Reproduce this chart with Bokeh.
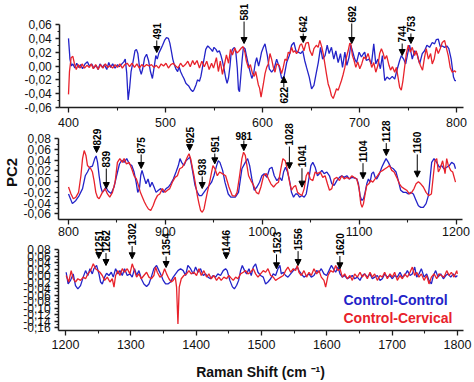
import math
from bokeh.plotting import figure
from bokeh.models import (Range1d, LinearAxis, FixedTicker, CustomJSTickFormatter,
                          ColumnDataSource, LabelSet, Label, Arrow, NormalHead)
from bokeh.embed import file_html
from bokeh.resources import INLINE
from bokeh.core.properties import value

# ---------------- data ----------------
P1_BLUE_X = [400, 401.5, 403, 404.5, 406.5, 408.5, 410.5, 412.5, 414.5, 417, 419.5, 421.5, 424, 426, 428.5, 430.5,
             432.5, 435, 437, 439.5, 441.5, 443.5, 445.5, 448, 450.5, 452.5, 455, 457, 458.5, 460, 461.5, 463,
             464.5, 466.5, 468.5, 470, 471.5, 473.5, 475, 476.5, 478.5, 480.5, 482.5, 484.5, 486.5, 488.5, 490,
             491.5, 493, 495, 497, 499, 501, 503, 504.5, 506, 507.5, 509, 511, 512.5, 514, 515.5, 517.5, 519, 521,
             522.5, 524, 526, 528, 529.5, 531.5, 533, 535, 536.5, 538, 540, 541.5, 543.5, 545, 547, 548.5, 550,
             552, 553.5, 555.5, 557, 558.5, 560.5, 562, 563.5, 565, 566.5, 567.5, 569, 571, 572.5, 574, 575.2,
             576.3, 577.5, 579, 580.3, 582, 583.7, 585.4, 587.5, 589, 591, 592.5, 594, 596, 597.5, 599, 600.9,
             602.6, 605, 607, 609.4, 612, 614.6, 617.3, 619.7, 622.1, 624.9, 627.6, 630, 632.4, 634.5, 636.9,
             639.3, 641.5, 643.5, 645.4, 648.2, 650.6, 653, 655.3, 657.5, 659.8, 662, 664.5, 666.7, 668.7, 671.1,
             673.5, 675.6, 678, 680.4, 682.5, 684.9, 687, 689.3, 691, 692.7, 695.1, 697, 699.6, 702, 703.7, 705.4,
             707, 709.8, 712.3, 714.7, 716.8, 719, 721.5, 723.6, 726, 728.4, 731.1, 733.8, 736.3, 739, 741.4,
             743.1, 745.5, 747.6, 750, 751.7, 754.4, 756.8, 759.5, 762, 764.7, 767.1, 769.5, 772.3, 775, 777.4,
             779.1, 781.2, 783.2, 785.3, 787.7, 790.1, 792.1, 794.5, 796.9, 798.3, 799.5]
P1_BLUE_Y = [0.040, 0.010, 0.000, 0.003, -0.003, 0.004, -0.002, 0.002, -0.004, 0.003, 0.006, 0.000, 0.003, -0.003,
             0.001, -0.005, 0.003, -0.002, 0.002, -0.005, 0.005, -0.002, 0.003, -0.003, 0.002, -0.001, 0.003,
             0.006, 0.010, -0.010, -0.049, -0.032, -0.008, 0.006, 0.022, 0.024, 0.018, -0.005, -0.012, -0.004,
             0.012, 0.017, 0.008, -0.008, -0.018, 0.000, 0.015, 0.010, 0.018, 0.024, 0.030, 0.037, 0.041, 0.040,
             0.033, 0.022, 0.010, 0.002, -0.005, -0.008, -0.001, -0.008, -0.014, -0.018, -0.025, -0.027, -0.029,
             -0.034, -0.037, -0.034, -0.027, -0.020, -0.022, -0.015, -0.003, 0.012, 0.024, 0.029, 0.027, 0.024,
             0.021, 0.027, 0.024, 0.020, 0.022, 0.016, 0.008, -0.005, -0.017, -0.025, -0.017, 0.000, 0.016,
             0.024, 0.027, 0.020, -0.003, -0.034, -0.037, -0.017, 0.009, 0.027, 0.025, 0.013, 0.002, -0.010,
             -0.018, -0.010, 0.004, 0.012, 0.000, 0.009, 0.020, 0.027, 0.032, 0.015, -0.004, -0.009, -0.004,
             0.010, -0.002, -0.018, -0.016, 0.005, 0.015, 0.030, 0.034, 0.022, 0.020, 0.018, 0.022, 0.008,
             -0.002, -0.016, -0.033, -0.028, -0.011, 0.005, 0.027, 0.010, 0.015, 0.030, 0.018, 0.027, 0.010,
             0.022, 0.005, 0.018, -0.002, 0.020, 0.001, 0.013, 0.030, 0.022, 0.010, 0.005, 0.020, 0.013, 0.017,
             0.020, 0.008, 0.010, 0.003, 0.032, 0.003, 0.010, -0.004, 0.015, -0.021, -0.016, -0.019, -0.015,
             -0.019, -0.004, 0.008, 0.015, 0.010, 0.003, 0.020, 0.030, 0.010, 0.022, 0.017, 0.003, 0.018, 0.022,
             0.030, 0.027, 0.034, 0.032, 0.038, 0.039, 0.028, 0.029, 0.027, 0.029, 0.025, 0.010, -0.016, -0.021,
             -0.021]

P1_RED_X = [400, 401, 402.7, 404.5, 406, 408, 410, 412, 414, 416.5, 419, 421.5, 423.5, 425.5, 428, 430.5, 433,
            435.5, 438, 440.5, 443, 445.5, 448, 450.5, 453, 455.5, 458, 460.5, 463, 465.5, 468, 470.5, 473, 475.5,
            478, 480.5, 483, 485.5, 488, 490.5, 493, 495.5, 498, 500.5, 503, 505.5, 508, 510.5, 513, 515.5, 518,
            520.5, 523, 525.5, 528, 530, 532.5, 535, 537.5, 540, 542.5, 545, 547.5, 549.5, 552.5, 554.5, 556.5,
            558.7, 560.5, 562.8, 565, 567, 569, 571.4, 573.5, 575.5, 578.2, 580, 582, 583.4, 585.5, 587.5, 589.5,
            591.5, 593, 595.7, 597, 598.5, 600.9, 602.6, 604.3, 606, 607.7, 609.4, 611.2, 612.9, 614.6, 617.3,
            619.7, 621.4, 623.2, 624.9, 626.6, 628.3, 630, 631.7, 633.4, 635.1, 636.9, 638.6, 640.3, 642.7,
            644.8, 647.2, 648.9, 651.3, 653, 655.5, 657.4, 659.1, 661, 662.6, 664.3, 666, 667.7, 669.4, 671.1,
            672.9, 674.6, 676.3, 678, 679.7, 681.4, 683, 684.9, 686.6, 688.3, 690, 691, 692.7, 694.4, 696.2,
            698.2, 700.3, 702.3, 704.4, 706.5, 708.8, 710.5, 712.6, 714.7, 716.8, 719, 720.8, 722.6, 724.5, 726,
            728, 730.4, 732, 734, 736.3, 738, 739.7, 741.4, 743.1, 744.8, 746.5, 748.3, 750.3, 752.4, 754.4,
            756.8, 758.5, 760.6, 762.7, 765, 767.1, 768.8, 771, 773.3, 775, 777, 779.1, 781.2, 783.2, 785.3,
            787.7, 789.4, 791.5, 793.5, 795.6, 798, 799.5]
P1_RED_Y = [-0.041, -0.008, 0.012, 0.014, 0.004, -0.005, 0.002, -0.003, 0.003, -0.003, 0.001, -0.002, 0.003,
            -0.004, 0.002, -0.005, 0.002, -0.003, 0.003, -0.002, 0.001, -0.003, 0.002, -0.002, 0.003, -0.003,
            0.002, 0.004, -0.001, 0.004, -0.002, 0.003, -0.003, 0.002, -0.001, 0.002, 0.000, 0.002, -0.002,
            0.001, -0.003, 0.003, 0.000, 0.004, -0.003, 0.002, 0.004, 0.000, -0.003, 0.004, -0.001, 0.002,
            0.007, -0.001, 0.008, 0.002, 0.008, -0.003, 0.007, -0.001, 0.007, -0.005, 0.004, -0.003, 0.012,
            -0.008, 0.007, -0.012, 0.000, 0.016, 0.004, 0.024, 0.016, 0.026, 0.019, 0.021, 0.026, 0.028, 0.019,
            0.007, -0.003, 0.002, -0.010, -0.015, -0.008, -0.027, -0.032, -0.045, -0.026, -0.011, -0.002, 0.003,
            0.018, 0.010, -0.002, -0.009, 0.003, 0.001, -0.011, -0.002, 0.010, 0.008, 0.020, 0.018, 0.027,
            0.020, 0.022, 0.018, 0.022, 0.030, 0.032, 0.022, 0.033, 0.034, 0.022, 0.015, 0.025, 0.030, 0.027,
            0.037, 0.028, 0.018, 0.003, -0.012, -0.026, -0.033, -0.043, -0.047, -0.040, -0.033, -0.035, -0.028,
            -0.021, -0.013, -0.002, 0.013, 0.022, 0.033, 0.032, 0.015, 0.008, -0.002, 0.006, -0.004, 0.003,
            0.013, 0.010, 0.018, 0.010, -0.002, 0.005, -0.009, 0.001, 0.018, 0.025, 0.018, 0.010, 0.015, 0.001,
            -0.006, -0.001, -0.009, -0.002, -0.016, -0.031, -0.035, -0.021, -0.002, 0.018, 0.030, 0.020, 0.027,
            0.015, 0.022, 0.010, 0.001, -0.006, 0.013, 0.025, 0.010, 0.018, 0.003, 0.010, 0.027, 0.018, 0.025,
            0.034, 0.037, 0.027, 0.015, -0.002, -0.009, -0.007, -0.009]

P2_BLUE_X = [800, 804, 807.6, 811, 814.5, 817.3, 819.6, 822, 824.7, 827.1, 828.5, 830, 831.6, 833.3, 835, 836.8,
             838.5, 841, 844, 847, 849.8, 852.6, 855, 857.4, 860.1, 862.9, 865.3, 867.7, 869.8, 871.5, 873.2,
             874.6, 875.9, 878, 880, 882.1, 884.2, 886.2, 888.3, 890.4, 892.8, 895.2, 897.9, 900.7, 903.1, 905.5,
             908.2, 911, 913.4, 915.1, 916.8, 919.2, 921.3, 923.7, 925.4, 927.1, 928.9, 930.6, 933, 935, 937.4,
             939.8, 942.6, 945.3, 947.7, 950.1, 952.9, 954.6, 956.3, 959.1, 961.5, 964.9, 967.5, 972.2, 975.5,
             979, 982.5, 984.9, 987, 989.3, 991.7, 994.5, 997.2, 999.6, 1002, 1004.8, 1007.5, 1010, 1012.4,
             1015.1, 1017.9, 1020.3, 1022, 1024, 1026.1, 1028.2, 1030.2, 1032.3, 1034.4, 1036.4, 1038.5, 1040.9,
             1043.3, 1045.4, 1047.8, 1050.2, 1052.2, 1054.6, 1057, 1059.1, 1061.5, 1063.9, 1066.7, 1069.4,
             1071.8, 1074.2, 1077, 1079.7, 1082.1, 1084.5, 1087.3, 1090, 1092.4, 1094.8, 1097.6, 1099.3, 1101,
             1102.7, 1104.5, 1106.2, 1107.9, 1109.6, 1111.3, 1113, 1114.8, 1116.5, 1118.2, 1121, 1123.4, 1125.8,
             1127.8, 1130.2, 1132.6, 1135.4, 1138.1, 1140.5, 1142.9, 1145.7, 1148.4, 1150.8, 1153.3, 1156,
             1158.8, 1161.2, 1163.6, 1166.3, 1169.1, 1171.5, 1173.2, 1174.9, 1177.3, 1180.1, 1182.8, 1185.2,
             1187.6, 1190.4, 1193.1, 1195.5, 1198, 1199.5]
P2_BLUE_Y = [-0.023, -0.041, -0.035, -0.026, -0.013, 0.011, 0.018, 0.027, 0.029, 0.043, 0.048, 0.036, 0.011,
             -0.010, -0.020, -0.016, -0.010, -0.018, -0.022, -0.010, 0.012, 0.033, 0.040, 0.036, 0.043, 0.033,
             0.030, 0.018, -0.001, -0.020, -0.013, 0.012, 0.021, 0.008, -0.004, 0.005, -0.010, -0.001, -0.010,
             -0.020, -0.016, -0.013, -0.020, -0.013, -0.010, -0.004, 0.005, 0.018, 0.030, 0.043, 0.036, 0.030,
             0.039, 0.043, 0.046, 0.030, 0.011, -0.007, -0.020, -0.026, -0.026, -0.020, -0.013, -0.007, -0.001,
             0.011, 0.030, 0.039, 0.036, 0.021, -0.001, -0.023, -0.029, -0.029, -0.020, 0.024, 0.036, 0.043,
             0.030, 0.005, -0.016, -0.010, -0.001, 0.011, 0.015, 0.008, 0.024, 0.027, 0.011, 0.002, 0.008, 0.002,
             0.018, 0.027, 0.018, 0.002, -0.020, -0.029, -0.023, -0.023, -0.029, -0.026, -0.029, -0.023, 0.002,
             0.030, 0.036, 0.027, 0.011, 0.015, 0.021, 0.015, 0.018, 0.011, -0.004, -0.007, 0.002, 0.008, 0.011,
             0.008, 0.011, 0.005, 0.008, 0.007, 0.005, -0.004, -0.026, -0.035, -0.032, -0.020, -0.004, 0.005,
             -0.001, 0.015, 0.018, 0.008, 0.005, 0.015, 0.027, 0.036, 0.043, 0.036, 0.027, 0.024, 0.018, 0.002,
             -0.016, -0.020, -0.020, -0.023, -0.020, -0.023, -0.035, -0.045, -0.048, -0.048, -0.041, -0.026,
             0.005, 0.036, 0.043, 0.036, 0.027, 0.030, 0.024, 0.027, 0.030, 0.036, 0.033, 0.024]

P2_RED_X = [800, 802.6, 805, 807.6, 810.4, 812.8, 814.5, 816.2, 818, 819.6, 821.3, 823, 824.7, 826.4, 828.2, 829.9,
            831.6, 833.3, 835, 837.8, 840.2, 842.6, 845.4, 848.1, 850.5, 853, 855.7, 857.4, 859.8, 862.5, 865.3,
            867.7, 870.1, 872.2, 874.2, 876.3, 878.4, 880.4, 882.5, 884.9, 887.3, 889.3, 891.8, 894.2, 896.9,
            899.7, 902.1, 904.5, 907.2, 910, 912.4, 914.8, 917.5, 920.3, 922.7, 924.4, 926.1, 927.8, 929.6,
            931.3, 933, 934.7, 936.4, 938.1, 939.9, 941.6, 943.3, 945.7, 947.7, 949.1, 951.2, 953.6, 956, 958.7,
            962.2, 965.6, 969, 972, 974, 976.6, 979, 980.7, 982.5, 984.2, 985.9, 988.3, 991.1, 993.8, 996.2,
            998.6, 1001.4, 1004.1, 1006.5, 1008.9, 1011.7, 1014.4, 1016.8, 1019.2, 1021.3, 1023.7, 1026.1,
            1028.2, 1030.2, 1032.3, 1034.4, 1036.4, 1038.5, 1040.9, 1043.3, 1045.4, 1047.4, 1049.5, 1052.2,
            1054.6, 1057, 1059.8, 1062.5, 1064.9, 1067.3, 1069.4, 1071.8, 1074.2, 1077, 1079.7, 1082.1, 1084.5,
            1087.3, 1090, 1092.4, 1094.8, 1097.6, 1100, 1101.7, 1103.1, 1104.5, 1106.2, 1107.9, 1110, 1112,
            1114.1, 1116.5, 1118.9, 1121.6, 1124.4, 1126.8, 1129.2, 1131.3, 1133.7, 1136.1, 1138.8, 1141.6, 1144,
            1146.4, 1149.1, 1151.9, 1154.3, 1156.7, 1158.8, 1161.2, 1163.6, 1166.3, 1169.1, 1171.8, 1174.6,
            1176.6, 1178.3, 1180.1, 1181.8, 1183.5, 1186.2, 1188.7, 1190.4, 1192.1, 1194.5, 1196.6, 1199.5]
P2_RED_Y = [-0.010, -0.023, -0.032, -0.029, -0.020, 0.011, 0.043, 0.058, 0.049, 0.030, 0.027, 0.024, 0.018, 0.002,
            -0.020, -0.029, -0.032, -0.026, -0.020, -0.013, -0.023, -0.029, -0.020, -0.001, 0.036, 0.043, 0.036,
            0.043, 0.033, 0.036, 0.024, 0.011, 0.005, -0.007, -0.020, -0.029, -0.038, -0.045, -0.051, -0.054,
            -0.045, -0.035, -0.026, -0.023, -0.013, -0.020, -0.016, -0.013, -0.001, 0.008, 0.011, 0.024, 0.027,
            0.036, 0.046, 0.052, 0.043, 0.027, 0.011, -0.007, -0.026, -0.041, -0.054, -0.057, -0.051, -0.035,
            -0.020, -0.001, 0.018, 0.030, 0.024, 0.011, 0.018, 0.015, 0.011, -0.010, -0.026, -0.027, -0.020,
            0.011, 0.043, 0.055, 0.049, 0.030, 0.011, 0.002, -0.007, -0.020, -0.023, -0.010, 0.011, 0.015, 0.005,
            -0.004, -0.010, -0.004, -0.001, 0.024, 0.043, 0.039, 0.021, -0.001, -0.016, -0.010, -0.007, -0.020,
            -0.023, -0.026, -0.013, 0.011, 0.018, 0.005, 0.002, 0.018, 0.015, 0.018, 0.008, 0.011, -0.004,
            -0.016, -0.013, 0.005, 0.008, 0.002, 0.011, 0.005, 0.008, 0.005, 0.011, 0.008, 0.005, -0.013, -0.041,
            -0.048, -0.041, -0.023, -0.007, -0.004, 0.002, -0.001, 0.005, 0.011, 0.018, 0.021, 0.024, 0.027,
            0.030, 0.021, 0.018, 0.008, -0.004, -0.010, -0.013, -0.016, -0.023, -0.020, -0.013, -0.004, 0.000,
            -0.004, -0.010, -0.020, -0.026, -0.023, 0.011, 0.039, 0.043, 0.018, 0.024, 0.039, 0.015, 0.043,
            0.030, 0.021, 0.018, -0.001]

P3_BLUE_X = [1201, 1204, 1207.7, 1211.8, 1215.3, 1218.9, 1223, 1227.1, 1230.7, 1234.3, 1237.4, 1241, 1243.5,
             1247.6, 1251.2, 1253.7, 1256.3, 1259.9, 1262.9, 1266.5, 1270.1, 1273.1, 1276.7, 1280.3, 1283.3,
             1286.9, 1290.4, 1294.5, 1298.6, 1302.1, 1305.7, 1308.8, 1312.4, 1316, 1320, 1324.1, 1327.7, 1331.3,
             1335.3, 1339.4, 1343, 1346.6, 1349.6, 1353.2, 1356.8, 1360.8, 1364.9, 1368.5, 1372.1, 1376.1,
             1380.2, 1383.8, 1387.3, 1391.4, 1395.5, 1399.1, 1402.7, 1406.7, 1410.8, 1414.4, 1418, 1422, 1426.1,
             1429.7, 1433.2, 1437.3, 1441.4, 1445, 1447.5, 1451.6, 1455.5, 1458.5, 1462, 1465, 1468, 1470.6,
             1474.1, 1477.2, 1480.8, 1484.3, 1487.4, 1491, 1494.6, 1498.6, 1502.7, 1506.3, 1509.9, 1514, 1518,
             1521.6, 1525.2, 1528.2, 1530.3, 1533.4, 1536.9, 1540.5, 1544.6, 1548.7, 1552.2, 1554.8, 1557.3,
             1560.9, 1565, 1569.1, 1572.7, 1576.2, 1580.3, 1584.4, 1588, 1591.5, 1595.6, 1599.7, 1603.3, 1606.9,
             1609.9, 1613.5, 1617.1, 1620.1, 1623.7, 1627.3, 1631.4, 1635.4, 1639, 1642.6, 1646.7, 1650.8,
             1654.3, 1657.9, 1662, 1666.1, 1669.6, 1673.2, 1677.3, 1681.4, 1684.9, 1688.5, 1692.6, 1696.7,
             1700.3, 1703.8, 1707.9, 1712, 1715.6, 1719.2, 1723.3, 1727.3, 1730.9, 1734.5, 1737.5, 1741.1,
             1744.7, 1748.8, 1752.8, 1756.4, 1760, 1763.1, 1766.6, 1770.2, 1774.3, 1778.4, 1782, 1785.5, 1789.6,
             1793.7, 1797.3, 1799.8]
P3_BLUE_Y = [0.010, -0.026, -0.015, 0.005, -0.031, -0.041, -0.031, -0.005, 0.015, 0.000, 0.021, 0.005, 0.021,
             0.031, 0.005, -0.020, -0.026, -0.005, 0.007, 0.000, 0.010, -0.005, 0.021, 0.005, 0.015, 0.000, 0.021,
             0.000, 0.005, -0.005, 0.021, 0.000, 0.015, -0.010, -0.026, -0.034, -0.026, -0.005, 0.021, 0.031,
             0.015, 0.000, -0.015, -0.026, -0.026, -0.020, -0.005, 0.005, 0.015, 0.021, 0.015, 0.000, 0.031,
             0.021, 0.005, 0.026, 0.010, 0.021, 0.000, 0.005, -0.005, -0.010, 0.000, -0.005, 0.005, 0.000, 0.015,
             0.021, 0.015, -0.015, -0.035, -0.041, -0.030, -0.015, 0.015, 0.031, 0.015, 0.005, 0.021, 0.000,
             0.026, 0.036, 0.010, 0.000, -0.005, -0.026, -0.020, -0.010, 0.005, 0.000, 0.021, 0.031, 0.005,
             0.010, 0.000, -0.005, 0.005, 0.015, 0.021, 0.026, 0.015, 0.005, -0.005, 0.000, 0.005, -0.005, 0.000,
             0.015, 0.010, 0.021, 0.005, 0.000, 0.015, 0.031, 0.021, 0.010, 0.026, 0.005, -0.005, 0.000, -0.010,
             -0.005, 0.000, -0.010, -0.005, -0.015, 0.000, 0.005, -0.005, 0.005, -0.010, -0.005, 0.000, -0.015,
             -0.010, 0.005, -0.005, 0.000, -0.010, 0.000, -0.005, 0.010, -0.005, 0.000, 0.015, 0.000, 0.005,
             0.026, -0.005, 0.005, 0.021, -0.005, 0.005, -0.015, -0.026, 0.000, 0.015, -0.005, 0.005, -0.010,
             0.000, 0.005, -0.005, 0.005, -0.005, 0.000]

P3_RED_X = [1201, 1205, 1208.7, 1211.8, 1215.3, 1218.9, 1223, 1227.1, 1230.7, 1234.3, 1238.4, 1242.5, 1246.1,
            1249.6, 1252.7, 1256.3, 1259.9, 1264, 1268, 1271.6, 1274.2, 1276.7, 1280.3, 1283.3, 1286.9, 1290.4,
            1294.5, 1298.6, 1302.1, 1304.7, 1308.8, 1312.4, 1316, 1320, 1324.1, 1327.7, 1331.3, 1335.3, 1337.9,
            1340.5, 1344.5, 1348.1, 1351.7, 1354.7, 1358.3, 1361.9, 1364.9, 1368, 1370, 1372.1, 1374.1, 1377.2,
            1381.2, 1385.3, 1388.9, 1392.4, 1396.5, 1400.6, 1404.2, 1407.8, 1411.8, 1415.9, 1419.5, 1423, 1427.1,
            1431.2, 1434.8, 1438.3, 1442.4, 1446.5, 1450.1, 1453.6, 1456.8, 1460.4, 1464, 1468, 1472.1, 1475.7,
            1479.2, 1483.3, 1487.4, 1491, 1494.6, 1498.6, 1502.7, 1506.3, 1509.9, 1514, 1518, 1521.6, 1525.2,
            1529.3, 1533.4, 1536.9, 1540.5, 1544.6, 1548.7, 1552.2, 1554.8, 1557.3, 1560.9, 1565, 1569.1, 1572.7,
            1576.2, 1580.3, 1584.4, 1588, 1591.5, 1595.6, 1598.2, 1601.8, 1605.8, 1609.9, 1613.5, 1617.1, 1620.1,
            1623.7, 1627.3, 1631.4, 1635.4, 1639, 1642.6, 1646.7, 1650.8, 1654.3, 1657.9, 1662, 1666.1, 1669.6,
            1673.2, 1677.3, 1681.4, 1684.9, 1688.5, 1692.6, 1696.7, 1700.3, 1703.8, 1707.9, 1712, 1715.6, 1719.2,
            1723.3, 1727.3, 1730.9, 1734.5, 1737.5, 1741.1, 1744.7, 1748.8, 1752.8, 1756.4, 1760, 1764.1, 1768.2,
            1771.7, 1775.3, 1779.4, 1783.5, 1787.1, 1790.6, 1794.7, 1798.8, 1799.8]
P3_RED_Y = [0.000, -0.020, 0.015, -0.010, -0.020, -0.010, -0.015, -0.005, -0.010, 0.005, 0.015, 0.036, 0.021,
            0.015, 0.010, 0.000, -0.015, -0.005, -0.020, -0.010, -0.036, 0.000, 0.015, 0.000, 0.021, 0.010, 0.021,
            0.005, 0.036, 0.021, -0.005, 0.005, -0.010, 0.000, 0.010, -0.005, -0.010, 0.000, 0.026, 0.010,
            -0.005, 0.000, 0.021, 0.005, -0.010, -0.020, -0.015, -0.005, -0.036, -0.149, -0.036, -0.010, 0.000,
            0.005, 0.015, 0.005, 0.010, 0.000, 0.021, 0.000, 0.015, -0.005, 0.005, -0.010, 0.000, -0.015, -0.005,
            -0.015, -0.005, -0.010, 0.000, -0.008, -0.015, -0.005, -0.010, 0.005, 0.010, 0.015, 0.005, 0.010,
            0.021, 0.005, -0.005, 0.005, 0.015, 0.010, 0.021, 0.000, -0.005, -0.015, -0.010, -0.005, 0.000, 0.015,
            0.026, 0.010, 0.021, 0.015, 0.031, 0.010, 0.000, 0.015, -0.005, 0.010, 0.000, 0.021, 0.005, 0.015,
            -0.005, -0.015, -0.036, 0.000, 0.015, 0.010, 0.031, 0.015, 0.021, -0.005, 0.005, -0.010, 0.000,
            -0.015, 0.005, -0.005, 0.010, -0.005, 0.005, -0.010, 0.010, -0.005, 0.005, -0.015, 0.000, -0.005,
            0.010, -0.010, 0.005, -0.005, 0.010, -0.015, 0.000, -0.010, 0.005, -0.005, 0.010, 0.026, 0.000, 0.010,
            -0.005, 0.005, -0.015, 0.000, -0.026, -0.005, 0.005, -0.010, 0.005, 0.000, -0.005, 0.015, 0.000,
            0.010, -0.005, 0.015, 0.005]

# tick values
P1_XTICKS = [400, 500, 600, 700, 800]
P1_XMINOR = [450, 550, 650, 750]
P1_YTICKS = [-0.06, -0.04, -0.02, 0.0, 0.02, 0.04, 0.06]
P1_YMINOR = [-0.05, -0.03, -0.01, 0.01, 0.03, 0.05]
P2_XTICKS = [800, 900, 1000, 1100, 1200]
P2_XMINOR = [850, 950, 1050, 1150]
P2_YTICKS = [-0.06, -0.04, -0.02, 0.0, 0.02, 0.04, 0.06, 0.08]
P2_YMINOR = [-0.05, -0.03, -0.01, 0.01, 0.03, 0.05, 0.07]
P3_XTICKS = [1200, 1300, 1400, 1500, 1600, 1700, 1800]
P3_XMINOR = [1250, 1350, 1450, 1550, 1650, 1750]
P3_YTICKS = [-0.16, -0.14, -0.12, -0.10, -0.08, -0.06, -0.04, -0.02, 0.0, 0.02, 0.04, 0.06, 0.08]
P3_YMINOR = [-0.15, -0.13, -0.11, -0.09, -0.07, -0.05, -0.03, -0.01, 0.01, 0.03, 0.05, 0.07]

# annotated peaks: wavenumber, then layout (label base, arrow tail, arrow tip) in PC2 units
P1_PEAKS = [491, 581, 622, 642, 692, 744, 753]
P1_LAB_Y = [0.0383, 0.0658, -0.0542, 0.0484, 0.0629, 0.034, 0.0484]
P1_TAIL_Y = [0.0369, 0.0643, -0.031, 0.047, 0.0615, 0.0325, 0.047]
P1_TIP_Y = [0.0195, 0.0325, -0.0152, 0.034, 0.0325, 0.0152, 0.0325]
P2_PEAKS = [829, 839, 875, 925, 938, 951, 1028, 1041, 1104, 1128, 1160]
P2_LAB_Y = [0.0675, 0.0264, 0.052, 0.0712, 0.0115, 0.0544, 0.0675, 0.027, 0.0363, 0.0737, 0.0526]
P2_TAIL_Y = [0.0656, 0.0245, 0.0507, 0.069, 0.0097, 0.0525, 0.0656, 0.025, 0.0345, 0.072, 0.0508]
P2_TIP_Y = [0.0544, -0.0128, 0.0246, 0.058, -0.0128, 0.0333, 0.024, -0.0103, 0.0053, 0.0488, 0.0083]
P2_FLAT_PEAK = [981]
P2_FLAT_LAB_Y = [0.086]
P2_FLAT_TAIL_Y = [0.077]
P2_FLAT_TIP_Y = [0.058]
P3_PEAKS = [1251, 1262, 1302, 1354, 1446, 1523, 1556, 1620]
P3_LAB_Y = [0.0708, 0.0708, 0.0923, 0.0615, 0.0717, 0.0667, 0.077, 0.0615]
P3_TAIL_Y = [0.069, 0.069, 0.0905, 0.0585, 0.07, 0.065, 0.075, 0.06]
P3_TIP_Y = [0.0523, 0.0308, 0.0514, 0.0246, 0.0514, 0.0206, 0.0308, 0.0206]

SERIES_NAMES = ["Control-Control", "Control-Cervical"]

# ---------------- layout ----------------
W, H, OFF = 474, 382, 0
BLUE, RED = "#2323c8", "#e8222b"
FONT = "Liberation Sans"
AX = "#1e1e1e"


def x_range(d1, X1, d2, X2):
    c1, c2 = X1 - OFF, X2 - OFF
    s = (c2 - c1) / (d2 - d1)
    start = d1 - c1 / s
    return Range1d(start, start + W / s)


def y_range(v1, Y1, v2, Y2):
    b1, b2 = H - (Y1 - OFF), H - (Y2 - OFF)
    s = (b2 - b1) / (v2 - v1)
    start = v1 - b1 / s
    return Range1d(start, start + H / s)


p = figure(width=W, height=H, output_backend="svg", toolbar_location=None,
           x_axis_type=None, y_axis_type=None, x_range=Range1d(0, 1), y_range=Range1d(0, 1),
           min_border=0, min_border_left=0, min_border_right=0, min_border_top=0, min_border_bottom=0)
p.outline_line_color = None
p.title.visible = False
p.background_fill_color = "white"
p.border_fill_color = "white"

p.extra_x_ranges = {
    "x1": x_range(400, 68, 800, 456),
    "x2": x_range(800, 68, 1200, 455.5),
    "x3": x_range(1200, 65, 1800, 457),
}
p.extra_y_ranges = {
    "y1": y_range(0.06, 24, -0.06, 107),
    "y2": y_range(0.08, 138.3, -0.06, 213.3),
    "y3": y_range(0.08, 249, -0.16, 327),
}

fmt = CustomJSTickFormatter(code="return tick.toFixed(2).replace('.', ',');")


def style_axis(a, standoff):
    a.axis_line_color = AX
    a.axis_line_width = 1.5
    a.major_tick_line_color = AX
    a.major_tick_line_width = 1.3
    a.minor_tick_line_color = AX
    a.minor_tick_line_width = 1.1
    a.major_tick_in = 0
    a.minor_tick_in = 0
    a.major_label_text_font = FONT
    a.major_label_text_font_size = "12px"
    a.major_label_text_color = "#111111"
    a.major_label_standoff = standoff


def add_axes(xr, yr, xt, xm, yt, ym, x_at, y_at, xb, yb, xstand):
    xa = LinearAxis(x_range_name=xr, y_range_name=yr, fixed_location=y_at, bounds=xb,
                    ticker=FixedTicker(ticks=xt, minor_ticks=xm))
    style_axis(xa, xstand)
    xa.major_tick_out = 5
    xa.minor_tick_out = 3
    xa.major_label_text_font_size = "12.5px"
    p.add_layout(xa, "below")
    ya = LinearAxis(x_range_name=xr, y_range_name=yr, fixed_location=x_at, bounds=yb,
                    ticker=FixedTicker(ticks=yt, minor_ticks=ym), formatter=fmt)
    style_axis(ya, 4)
    ya.major_tick_out = 4
    ya.minor_tick_out = 2
    p.add_layout(ya, "left")


add_axes("x1", "y1", P1_XTICKS, P1_XMINOR, P1_YTICKS, P1_YMINOR, 391, -0.06, (391, 807.5), (-0.0601, 0.0601), 5)
add_axes("x2", "y2", P2_XTICKS, P2_XMINOR, P2_YTICKS, P2_YMINOR, 790, -0.0706, (790, 1207), (-0.0706, 0.0801), 3)
add_axes("x3", "y3", P3_XTICKS, P3_XMINOR, P3_YTICKS, P3_YMINOR, 1189.5, -0.169, (1189.5, 1809.5), (-0.169, 0.0801), 5)

for xr, yr, bx, by, rx, ry in [("x1", "y1", P1_BLUE_X, P1_BLUE_Y, P1_RED_X, P1_RED_Y),
                               ("x2", "y2", P2_BLUE_X, P2_BLUE_Y, P2_RED_X, P2_RED_Y),
                               ("x3", "y3", P3_BLUE_X, P3_BLUE_Y, P3_RED_X, P3_RED_Y)]:
    p.line(bx, by, line_color=BLUE, line_width=1.3, x_range_name=xr, y_range_name=yr)
    p.line(rx, ry, line_color=RED, line_width=1.3, x_range_name=xr, y_range_name=yr)


def add_marks(xr, yr, peaks, lab_y, tail_y, tip_y, angle=math.pi / 2, align="left", baseline="middle"):
    src = ColumnDataSource(dict(x=peaks, ly=lab_y, t0=tail_y, t1=tip_y, txt=[str(v) for v in peaks]))
    p.add_layout(Arrow(end=NormalHead(size=6, fill_color="black", line_color="black", line_width=1),
                       source=src, x_start="x", y_start="t0", x_end="x", y_end="t1",
                       line_color="black", line_width=1, x_range_name=xr, y_range_name=yr))
    p.add_layout(LabelSet(source=src, x="x", y="ly", text="txt", angle=angle,
                          text_align=align, text_baseline=baseline,
                          text_font=value(FONT), text_font_size="10px", text_font_style="bold",
                          text_color="black", x_range_name=xr, y_range_name=yr))


add_marks("x1", "y1", P1_PEAKS, P1_LAB_Y, P1_TAIL_Y, P1_TIP_Y)
add_marks("x2", "y2", P2_PEAKS, P2_LAB_Y, P2_TAIL_Y, P2_TIP_Y)
add_marks("x2", "y2", P2_FLAT_PEAK, P2_FLAT_LAB_Y, P2_FLAT_TAIL_Y, P2_FLAT_TIP_Y, angle=0, align="center")
add_marks("x3", "y3", P3_PEAKS, P3_LAB_Y, P3_TAIL_Y, P3_TIP_Y)

# legend texts (coloured series names)
p.add_layout(Label(x=343, y=83, x_units="screen", y_units="screen", text=SERIES_NAMES[0],
                   text_color=BLUE, text_font=FONT, text_font_size="14px", text_font_style="bold",
                   text_baseline="middle"))
p.add_layout(Label(x=343, y=65, x_units="screen", y_units="screen", text=SERIES_NAMES[1],
                   text_color=RED, text_font=FONT, text_font_size="14px", text_font_style="bold",
                   text_baseline="middle"))

# axis titles
p.add_layout(Label(x=11, y=210, x_units="screen", y_units="screen", text="PC2", angle=math.pi / 2,
                   text_align="center", text_baseline="middle", text_color="#111111",
                   text_font=FONT, text_font_size="15px", text_font_style="bold"))
p.add_layout(Label(x=260, y=11, x_units="screen", y_units="screen", text="Raman Shift (cm \u207b\u00b9)",
                   text_align="center", text_baseline="middle", text_color="#111111",
                   text_font=FONT, text_font_size="14px", text_font_style="bold"))

open("out.html", "w").write(file_html(p, INLINE))
